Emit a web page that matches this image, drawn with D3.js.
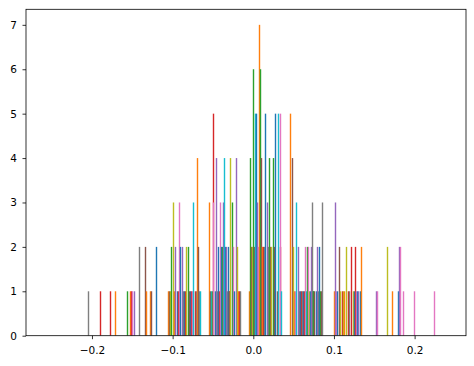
<!DOCTYPE html>
<html><head><meta charset="utf-8">
<script src="https://cdn.jsdelivr.net/npm/d3@7"></script>
<style>
body{margin:0;background:#fff}
svg{display:block}
text{font-family:"DejaVu Sans",sans-serif}
</style>
</head><body>
<svg id="chart" width="474" height="366"></svg>
<script>
// ---- data ----
const seriesCount = 100;
const palette = ["#1f77b4","#ff7f0e","#2ca02c","#d62728","#9467bd","#8c564b","#e377c2","#7f7f7f","#bcbd22","#17becf"];
const binEdges = [-0.2635, -0.2129, -0.1622, -0.1116, -0.0609, -0.0103, 0.0404, 0.0910, 0.1417, 0.1923, 0.2430];
const xTicks = [-0.2, -0.1, 0.0, 0.1, 0.2];
const yTicks = [0, 1, 2, 3, 4, 5, 6, 7];
// non-zero counts per bin: [series index, count]
const bin0 = [];
const bin1 = [[7,1],[43,1],[73,1],[91,1]];
const bin2 = [[2,1],[11,1],[13,1],[16,1],[24,1],[37,2],[55,2],[61,1],[71,1],[75,1],[90,2]];
const bin3 = [[1,1],[5,1],[8,1],[12,2],[18,3],[21,1],[24,2],[30,1],[33,1],[36,3],[40,2],[44,2],[47,1],[50,1],[53,1],[58,2],[62,2],[65,1],[70,1],[73,1],[76,1],[79,3],[83,1],[87,1],[91,4],[95,2],[97,1],[99,1]];
const bin4 = [[1,3],[5,1],[9,1],[12,1],[13,5],[16,3],[20,1],[24,4],[27,1],[30,2],[33,1],[36,3],[40,2],[42,2],[44,3],[49,4],[50,2],[54,2],[57,1],[60,2],[63,1],[65,1],[68,4],[72,3],[76,2],[80,1],[84,4],[88,2],[91,1],[93,1],[97,1]];
const bin5 = [[1,1],[2,4],[5,2],[8,2],[12,6],[15,2],[19,5],[20,5],[24,3],[26,2],[31,7],[32,6],[35,4],[41,2],[43,2],[47,2],[50,5],[54,3],[57,2],[62,4],[65,2],[68,2],[72,4],[75,2],[80,5],[85,1],[89,5],[93,2],[96,5],[99,1]];
const bin6 = [[1,5],[5,4],[8,2],[11,1],[16,1],[19,3],[24,2],[27,1],[30,1],[33,1],[37,1],[40,1],[43,1],[46,2],[49,1],[52,2],[56,2],[58,1],[60,1],[64,2],[67,3],[70,1],[72,1],[75,1],[80,1],[84,2],[87,1],[90,2],[92,1],[95,1],[97,3]];
const bin7 = [[11,1],[14,3],[16,1],[20,1],[25,2],[28,1],[33,1],[38,1],[41,1],[48,2],[53,1],[57,1],[63,2],[68,1],[70,1],[73,2],[76,1],[80,1],[84,1],[90,1],[91,2]];
const bin8 = [[14,1],[16,1],[48,2],[61,1],[80,1],[84,2],[86,2],[96,1]];
const bin9 = [[6,1],[66,1]];
const binCounts = [bin0, bin1, bin2, bin3, bin4, bin5, bin6, bin7, bin8, bin9];

// ---- layout ----
const svg = d3.select("#chart");
const L = 26, R = 466, T = 9.3, B = 335.7;
const x = d3.scaleLinear().domain([-0.2818, 0.2637]).range([L, R]);
const y = d3.scaleLinear().domain([0, 7.35]).range([B, T]);

// build bars (matplotlib side-by-side histogram layout, rwidth 0.8)
const bars = [];
binCounts.forEach((list, b) => {
  const w = binEdges[b + 1] - binEdges[b];
  const bw = 0.8 * w / seriesCount;
  list.forEach(([k, c]) => {
    const left = binEdges[b] + 0.1 * w + k * bw;
    bars.push({k, c, left, bw});
  });
});
bars.sort((a, b) => a.k - b.k);

svg.append("defs").append("clipPath").attr("id","plotclip")
  .append("rect").attr("x", L).attr("y", T).attr("width", R - L).attr("height", B - T);

const minW = 1.4;
svg.append("g").attr("clip-path","url(#plotclip)")
  .selectAll("rect").data(bars).join("rect")
  .attr("x", d => Math.round(x(d.left)) + 0.5 - minW / 2)
  .attr("width", d => Math.max(minW, x(d.left + d.bw) - x(d.left)))
  .attr("y", d => y(d.c))
  .attr("height", d => y(0) - y(d.c))
  .attr("fill", d => palette[d.k % 10]);

// axes
const fmt = d3.format(".1f");
const gx = svg.append("g").attr("transform", `translate(0,${B})`)
  .call(d3.axisBottom(x).tickValues(xTicks).tickFormat(fmt).tickSize(3.5).tickSizeOuter(0).tickPadding(7));
const gy = svg.append("g").attr("transform", `translate(${L},0)`)
  .call(d3.axisLeft(y).tickValues(yTicks).tickFormat(d3.format("d")).tickSize(3.5).tickSizeOuter(0).tickPadding(5.5));
[gx, gy].forEach(g => {
  g.select(".domain").remove();
  g.selectAll(".tick line").attr("stroke", "#000").attr("stroke-width", 0.8);
  g.selectAll(".tick text").attr("fill", "#000").style("font-size", "10.5px").style("font-family", '"DejaVu Sans", sans-serif');
});

// spines
svg.append("rect")
  .attr("x", L).attr("y", T).attr("width", R - L).attr("height", B - T)
  .attr("fill", "none").attr("stroke", "#000").attr("stroke-width", 0.8);
</script>
</body></html>
